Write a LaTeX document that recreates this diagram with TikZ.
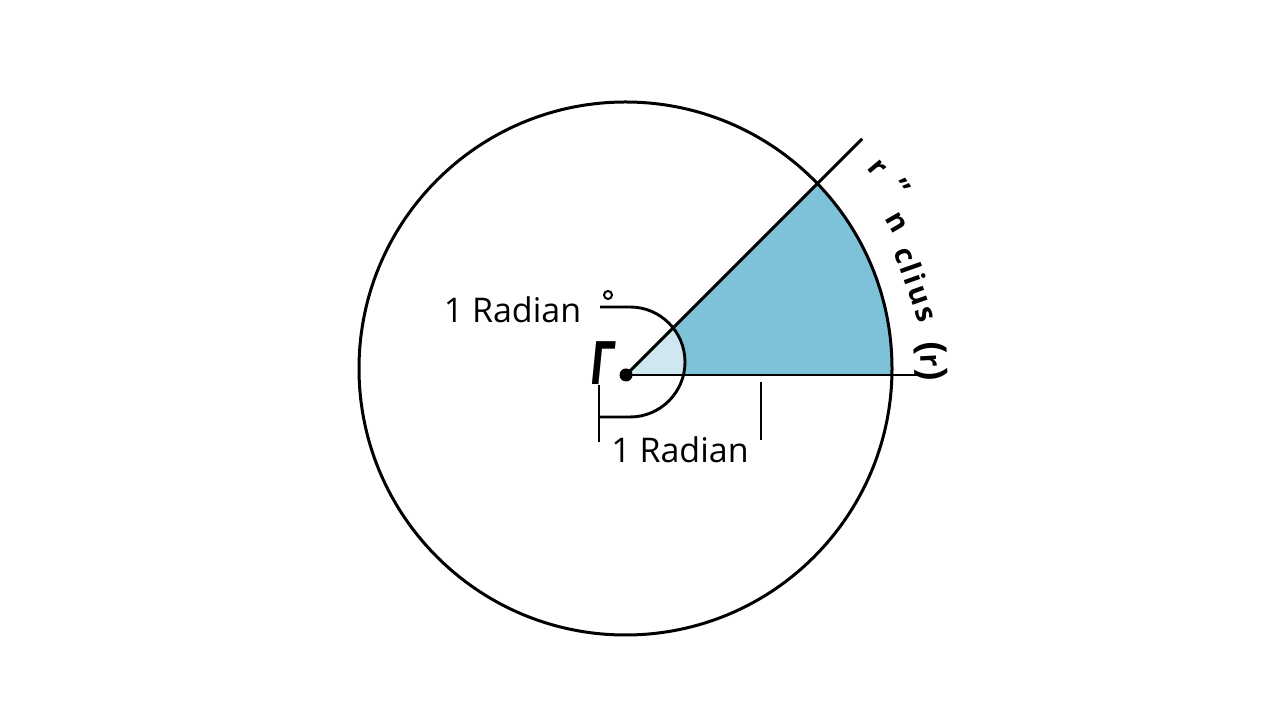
\documentclass[tikz,border=0pt]{standalone}
\usepackage{fontspec}
\setmainfont{Open Sans}
\definecolor{outerblue}{HTML}{7DC2D9}
\definecolor{innerblue}{HTML}{CFE7F1}
\newcommand{\bigpar}[1]{{\fontsize{38}{42}\selectfont #1}}
\begin{document}
\begin{tikzpicture}[x=1pt,y=1pt,
  ln/.style={line width=2.9pt, black},
  lbl/.style={font=\fontsize{34}{40}\selectfont, inner sep=0pt, anchor=base},
  arcch/.style={font=\fontsize{29}{32}\selectfont\bfseries, inner sep=0pt, anchor=center},
]
\useasboundingbox (0,0) rectangle (1280,720);
\fill[white] (0,0) rectangle (1280,720);
\coordinate (O) at (626,345);
\coordinate (C) at (625.5,351.5);
\coordinate (H) at (935,345);
\coordinate (D) at (862.2,581.2);
% sectors
\fill[innerblue] (O) -- (683.4,345) arc[start angle=-13.7,end angle=38.4,radius=55] -- cycle;
\fill[outerblue] (683.4,345) -- (891.9,345) arc[start angle=-1.4,end angle=43.94,radius=266.5]
  -- (673.1,392.1) arc[start angle=38.4,end angle=-13.7,radius=55] -- cycle;
% big circle
\draw[ln, line width=3pt] (C) circle[radius=266.5];
% radii
\draw[ln] (O) -- (H);
\draw[ln] (O) -- (D);
% small arc
\draw[ln] (600,413) -- (630,413) arc[start angle=90,end angle=-90,radius=55] -- (600,303);
% ticks
\draw[ln] (599,335) -- (599,278);
\draw[ln] (761,338) -- (761,280);
% degree mark
\draw[line width=2pt] (608,425) circle[radius=4];
% centre dot
\fill (O) circle[radius=6.5];
% Gamma-like mark
\begin{scope}[shift={(603,357)}, xslant=0.1, xscale=0.72]
  \node[font=\fontsize{60}{64}\selectfont\bfseries, inner sep=0pt, transform shape] (gam) at (0,0) {Γ};
\end{scope}
% labels
\node[lbl] (rad1) at (512.5,397) {1 Radian};
\node[lbl] (rad2) at (680,257) {1 Radian};
% text along the arc
\node[arcch, rotate=-50] (t1) at (877,552) {r};
\node[arcch, rotate=-55] (t2) at (900,532) {"};
\node[arcch, rotate=-60] (t3) at (896,497) {n};
\node[arcch, rotate=-70.5] (t4) at (917,436) {\addfontfeatures{LetterSpace=10}clius};
\node[arcch, rotate=-87] (t5) at (931,359) {\addfontfeatures{LetterSpace=6}\bigpar{(}r\bigpar{)}};
\end{tikzpicture}
\end{document}
